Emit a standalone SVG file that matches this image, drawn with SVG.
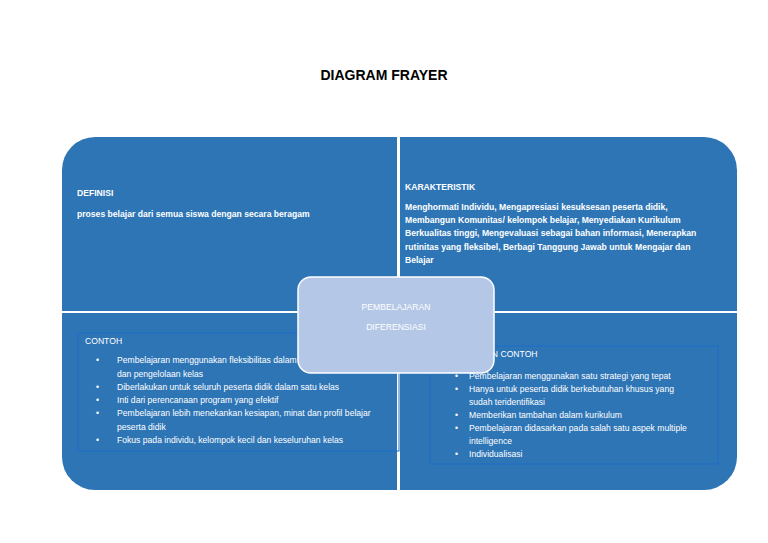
<svg xmlns="http://www.w3.org/2000/svg" width="768" height="543" viewBox="0 0 768 543">
<style>
.q{fill:#2e75b6}
.t{font-family:"Liberation Sans",Arial,sans-serif;font-size:8.6px;fill:#ffffff}
.b{font-weight:bold}
.lb{fill:none;stroke:#1f6fc8;stroke-width:1}
</style>
<rect width="768" height="543" fill="#ffffff"/>
<text x="384" y="80" text-anchor="middle" font-family="Liberation Sans,Arial,sans-serif" font-size="14" font-weight="bold" fill="#000">DIAGRAM FRAYER</text>
<g id="definisi">
<path class="q" d="M62,311 V170 A33,33 0 0 1 95,137 H397 V311 Z"/>
<text class="t b" x="77" y="196">DEFINISI</text>
<text class="t b" x="77" y="217">proses belajar dari semua siswa dengan secara beragam</text>
</g>
<g id="karakteristik">
<path class="q" d="M400,137 H704 A33,33 0 0 1 737,170 V311 H400 Z"/>
<text class="t b" x="405" y="190">KARAKTERISTIK</text>
<text class="t b" x="405" y="210">Menghormati Individu, Mengapresiasi kesuksesan peserta didik,</text>
<text class="t b" x="405" y="223">Membangun Komunitas/ kelompok belajar, Menyediakan Kurikulum</text>
<text class="t b" x="405" y="236">Berkualitas tinggi, Mengevaluasi sebagai bahan informasi, Menerapkan</text>
<text class="t b" x="405" y="250">rutinitas yang fleksibel, Berbagi Tanggung Jawab untuk Mengajar dan</text>
<text class="t b" x="405" y="263">Belajar</text>
</g>
<g id="contoh">
<path class="q" d="M62,313 H397 V490 H95 A33,33 0 0 1 62,457 Z"/>
<rect class="lb" x="78" y="333" width="321" height="118"/>
<text class="t" x="85" y="344">CONTOH</text>
<g class="t">
<text x="96" y="363">•</text><text x="117" y="363">Pembelajaran menggunakan fleksibilitas dalam organisasi materi</text>
<text x="117" y="377">dan pengelolaan kelas</text>
<text x="96" y="390">•</text><text x="117" y="390">Diberlakukan untuk seluruh peserta didik dalam satu kelas</text>
<text x="96" y="403">•</text><text x="117" y="403">Inti dari perencanaan program yang efektif</text>
<text x="96" y="416">•</text><text x="117" y="416">Pembelajaran lebih menekankan kesiapan, minat dan profil belajar</text>
<text x="117" y="430">peserta didik</text>
<text x="96" y="443">•</text><text x="117" y="443">Fokus pada individu, kelompok kecil dan keseluruhan kelas</text>
</g>
</g>
<g id="bukan-contoh">
<path class="q" d="M400,313 H737 V457 A33,33 0 0 1 704,490 H400 Z"/>
<rect class="lb" x="430" y="346" width="288" height="118"/>
<text class="t" x="503" y="357" text-anchor="middle">BUKAN CONTOH</text>
<g class="t">
<text x="455" y="379">•</text><text x="469" y="379">Pembelajaran menggunakan satu strategi yang tepat</text>
<text x="455" y="392">•</text><text x="469" y="392">Hanya untuk peserta didik berkebutuhan khusus yang</text>
<text x="469" y="405">sudah teridentifikasi</text>
<text x="455" y="418">•</text><text x="469" y="418">Memberikan tambahan dalam kurikulum</text>
<text x="455" y="431">•</text><text x="469" y="431">Pembelajaran didasarkan pada salah satu aspek multiple</text>
<text x="469" y="444">intelligence</text>
<text x="455" y="457">•</text><text x="469" y="457">Individualisasi</text>
</g>
</g>
<g id="pusat">
<rect x="298" y="277" width="196" height="96" rx="13" fill="#b4c7e7" stroke="#ffffff" stroke-width="1.5"/>
<text class="t" x="396" y="310" text-anchor="middle">PEMBELAJARAN</text>
<text class="t" x="396" y="330" text-anchor="middle">DIFERENSIASI</text>
</g>
</svg>
